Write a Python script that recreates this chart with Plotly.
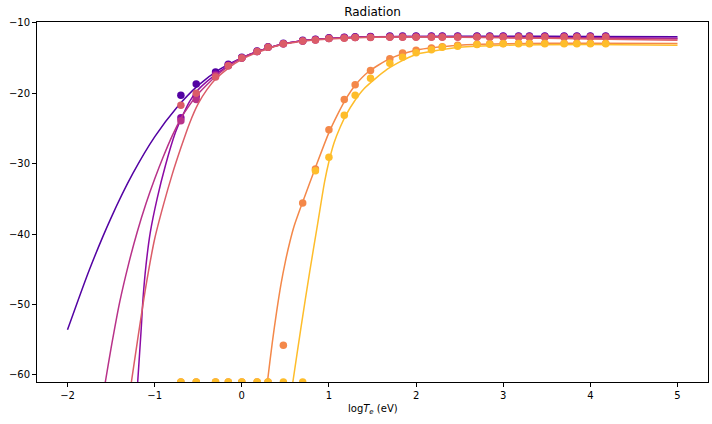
import numpy as np
import plotly.graph_objects as go

# ---------------- data ----------------
Te = [0.2, 0.3, 0.5, 0.7, 1, 1.5, 2, 3, 5, 7, 10, 15, 20, 30, 50, 70, 100, 150,
      200, 300, 500, 700, 1000, 1500, 2000, 3000, 5000, 7000, 10000, 15000]

colors = ["#5302a3", "#8b0aa5", "#b83289", "#db5c68", "#f48849", "#febd2a"]

# measured points (log10 of radiation)
pts_1 = [-20.3, -18.7, -17.0, -15.9, -14.9, -14.0, -13.4, -12.9, -12.5, -12.35,
         -12.15, -12.05, -12.0, -11.95, -11.9, -11.9, -11.9, -11.9, -11.9, -11.9,
         -11.9, -11.9, -11.9, -11.9, -11.9, -11.9, -11.9, -11.9, -11.9, -11.9]
pts_2 = [-23.5, -20.4, -17.3, -16.0, -15.0, -14.1, -13.5, -13.0, -12.6, -12.4,
         -12.2, -12.1, -12.05, -12.0, -12.0, -12.0, -11.95, -11.95, -11.95, -11.95,
         -11.95, -11.95, -11.95, -11.95, -11.95, -11.95, -11.95, -11.95, -11.95, -11.95]
pts_3 = [-23.9, -20.9, -17.5, -16.1, -15.0, -14.1, -13.5, -13.0, -12.6, -12.45,
         -12.25, -12.15, -12.1, -12.05, -12.0, -12.0, -12.0, -12.0, -12.0, -12.0,
         -12.0, -12.0, -12.0, -12.0, -12.0, -12.0, -12.0, -12.0, -12.0, -12.0]
pts_4 = [-21.7, -20.0, -17.7, -16.1, -15.0, -14.1, -13.5, -13.0, -12.6, -12.45,
         -12.25, -12.2, -12.1, -12.1, -12.05, -12.05, -12.05, -12.05, -12.05, -12.05,
         -12.05, -12.05, -12.05, -12.05, -12.05, -12.05, -12.05, -12.05, -12.05, -12.05]
pts_5 = [-61, -61, -61, -61, -61, -61, -61, -55.8, -35.6, -30.75,
         -25.2, -20.9, -18.8, -16.8, -15.1, -14.3, -13.9, -13.6, -13.4, -13.2,
         -13.05, -13.0, -12.95, -12.9, -12.9, -12.9, -12.9, -12.9, -12.9, -12.9]
pts_6 = [-61, -61, -61, -61, -61, -61, -61, -61, -61, -31.0,
         -29.1, -23.15, -20.3, -17.9, -15.75, -14.9, -14.25, -13.85, -13.5, -13.35,
         -13.1, -13.05, -13.0, -13.0, -13.0, -13.0, -13.0, -13.0, -13.0, -13.0]

# fitted curves (x = log10 Te)
fit_x_1 = [-2, -1.75, -1.5, -1.25, -1, -0.75, -0.5, -0.25, 0,
           0.25, 0.5, 0.75, 1, 1.5, 2, 3, 4, 5]
fit_y_1 = [-53.6, -45.1, -37.7, -31.4, -26.2, -22.1, -18.9, -16.6, -15.0,
           -13.8, -12.95, -12.5, -12.25, -12.0, -11.95, -11.92, -11.95, -12.0]

fit_x_2 = [-1.21, -1.194, -1.156, -1.133, -1.099, -1.049, -0.972, -0.877, -0.762, -0.705,
           -0.6, -0.5, -0.25, 0, 0.25, 0.5, 0.75, 1, 1.5, 2, 3, 4, 5]
fit_y_2 = [-64.0, -60.9, -53.8, -49.1, -44.4, -39.7, -35.0, -30.3, -25.6, -23.9,
           -21.2, -19.5, -16.9, -15.0, -13.8, -12.95, -12.5, -12.25, -12.0,
           -11.97, -12.05, -12.12, -12.2]

fit_x_3 = [-1.6, -1.566, -1.5, -1.4, -1.3, -1.2, -1.1, -1.0, -0.9, -0.8, -0.7, -0.6,
           -0.5, -0.4, -0.25, 0, 0.25, 0.5, 0.75, 1, 1.5, 2, 3, 4, 5]
fit_y_3 = [-63.6, -61.0, -56.2, -49.6, -44.3, -39.7, -35.7, -32.2, -29.0, -26.1, -23.6, -21.7,
           -20.1, -18.8, -17.1, -15.0, -13.8, -12.95, -12.5, -12.25, -12.0,
           -12.0, -12.08, -12.18, -12.3]

fit_x_4 = [-1.3, -1.267, -1.2, -1.1, -1.0, -0.9, -0.8, -0.7, -0.6, -0.5, -0.4, -0.3,
           -0.15, 0, 0.25, 0.5, 0.75, 1, 1.5, 2, 3, 4, 5]
fit_y_4 = [-63.8, -61.0, -55.4, -47.4, -40.7, -35.9, -31.6, -27.8, -24.3, -21.5, -19.5, -18.0,
           -16.4, -15.2, -13.9, -13.0, -12.55, -12.3, -12.05, -12.02, -12.15, -12.3, -12.5]

fit_x_5 = [0.27, 0.294, 0.35, 0.4, 0.45, 0.5, 0.55, 0.6, 0.7, 0.85, 1.0, 1.1, 1.2, 1.3,
           1.45, 1.7, 2.0, 2.5, 3, 4, 5]
fit_y_5 = [-63.7, -61.0, -55.4, -51.0, -47.1, -43.9, -41.2, -38.9, -35.4, -30.4, -25.6,
           -23.0, -20.7, -18.9, -17.0, -15.1, -13.9, -13.2, -13.0, -12.9, -12.95]

fit_x_6 = [0.56, 0.586, 0.68, 0.78, 0.87, 0.95, 1.0, 1.06, 1.13, 1.2, 1.3, 1.4, 1.67,
           1.87, 2.0, 2.5, 3, 4, 5]
fit_y_6 = [-63.2, -61.0, -53.2, -45.3, -38.6, -32.6, -29.7, -27.0, -24.8, -23.0, -21.0,
           -19.4, -16.6, -15.2, -14.5, -13.5, -13.2, -13.1, -13.2]

xtick_vals = [-2, -1, 0, 1, 2, 3, 4, 5]
ytick_vals = [-60, -50, -40, -30, -20, -10]

# ---------------- figure ----------------
logTe = np.log10(Te)
fits = [(fit_x_1, fit_y_1), (fit_x_2, fit_y_2), (fit_x_3, fit_y_3),
        (fit_x_4, fit_y_4), (fit_x_5, fit_y_5), (fit_x_6, fit_y_6)]
points = [pts_1, pts_2, pts_3, pts_4, pts_5, pts_6]

fig = go.Figure()
for (fx, fy), p, c in zip(fits, points, colors):
    fig.add_trace(go.Scatter(x=fx, y=fy, mode="lines",
                             line=dict(color=c, width=1.5, shape="spline", smoothing=0.7),
                             showlegend=False, hoverinfo="skip"))
    fig.add_trace(go.Scatter(x=logTe, y=p, mode="markers",
                             marker=dict(color=c, size=7.5, line=dict(width=0)),
                             showlegend=False, cliponaxis=True))

font = "DejaVu Sans, Arial, sans-serif"
axis_common = dict(showline=True, linecolor="black", linewidth=1, mirror=True,
                   ticks="outside", ticklen=4, tickwidth=1, tickcolor="black",
                   showgrid=False, zeroline=False, automargin=False,
                   tickfont=dict(family=font, size=10, color="black"))

fig.update_layout(
    width=712, height=424,
    margin=dict(l=37, r=4, t=22, b=42, autoexpand=False),
    paper_bgcolor="white", plot_bgcolor="white",
    title=dict(text="Radiation", x=0.5, xref="paper", y=1 - 12 / 424, yanchor="middle",
               font=dict(family=font, size=12, color="black")),
    xaxis=dict(range=[-2.35, 5.35], tickvals=xtick_vals, **axis_common),
    yaxis=dict(range=[-61, -9.9], tickvals=ytick_vals, **axis_common),
    annotations=[dict(text="log<i>T</i><sub><i>e</i></sub> (eV)", x=0.5, xref="paper",
                      y=-27 / 360, yref="paper", yanchor="middle", showarrow=False,
                      font=dict(family=font, size=10, color="black"))],
)

fig.write_html("out.html", config={"displayModeBar": False},
               post_script="document.body.style.margin='0';document.body.style.overflow='hidden';")
